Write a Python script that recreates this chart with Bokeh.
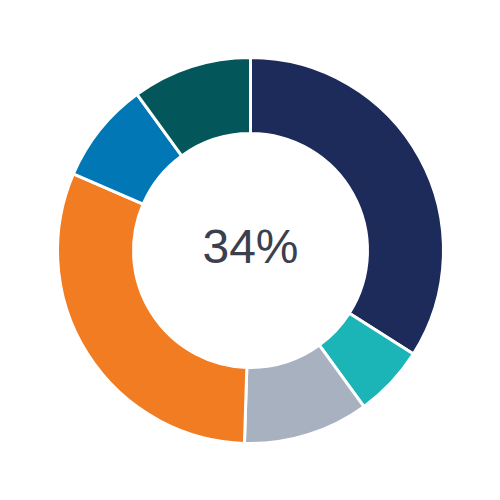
import numpy as np
from bokeh.plotting import figure
from bokeh.models import ColumnDataSource, Range1d
from bokeh.core.properties import value
from bokeh.embed import file_html
from bokeh.resources import INLINE

categories = ["Navy", "Teal", "Gray", "Orange", "Blue", "Green"]
shares = [34, 6, 10.5, 31, 8.5, 10]
colors = ["#1c2b5a", "#1bb5b8", "#a8b1bf", "#f27c22", "#0277b6", "#03575a"]
center_label = ["34%"]

frac = np.array(shares, dtype=float) / sum(shares)
cum = np.concatenate([[0.0], np.cumsum(frac)])
start = np.pi / 2 - cum[1:] * 2 * np.pi
end = np.pi / 2 - cum[:-1] * 2 * np.pi

src = ColumnDataSource(dict(cat=categories, start=start, end=end, color=colors,
                            x=[0] * len(shares), y=[0] * len(shares)))

W = 500
p = figure(width=W, height=W, output_backend="svg", toolbar_location=None,
           x_range=Range1d(-W / 2, W / 2), y_range=Range1d(-W / 2, W / 2),
           min_border=0)
p.axis.visible = False
p.grid.visible = False
p.outline_line_color = None
p.background_fill_color = "white"
p.border_fill_color = "white"

p.annular_wedge(x="x", y="y", inner_radius=117, outer_radius=193,
                start_angle="start", end_angle="end", fill_color="color",
                line_color="white", line_width=3, source=src)

p.text(x=[0], y=[4], text=center_label, text_align="center", text_baseline="middle",
       text_font=value("Liberation Sans"), text_font_size="48px", text_color="#3b404c")

open("out.html", "w").write(file_html(p, INLINE))
